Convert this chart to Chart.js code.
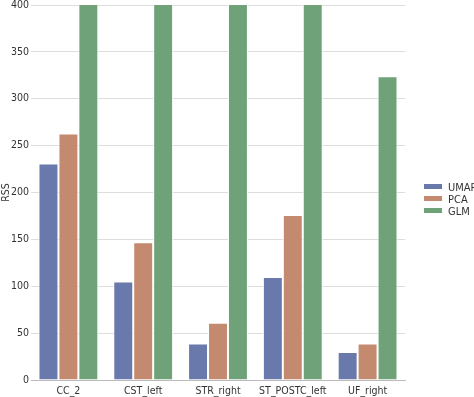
<!DOCTYPE html>
<html>
<head>
<meta charset="utf-8">
<script src="https://cdn.jsdelivr.net/npm/chart.js@4/dist/chart.umd.min.js"></script>
<style>
  html, body { margin: 0; padding: 0; background: #fff; }
  #wrap { position: relative; width: 474px; height: 397px; overflow: hidden; }
  #leyenda { position: absolute; left: 424px; top: 182px; font: 11px 'DejaVu Sans Condensed', 'DejaVu Sans', sans-serif; color: #333; white-space: nowrap; }
  #leyenda div { height: 12px; line-height: 12px; }
  #leyenda span.caja { display: inline-block; width: 18px; height: 5px; margin-right: 6px; vertical-align: 2px; }
</style>
</head>
<body>
<div id="wrap"><canvas id="rssChart"></canvas><div id="leyenda"></div></div>
<script>
// categorias y valores
const tracts = ['CC_2', 'CST_left', 'STR_right', 'ST_POSTC_left', 'UF_right'];
const umap = [231, 105, 39, 110, 30];
const pca = [263, 147, 61, 176, 39];
// GLM sobrepasa el eje (recortado en 400) salvo UF_right
const glm = [560, 520, 540, 600, 324];
const yTicks = [0, 50, 100, 150, 200, 250, 300, 350, 400];

const ctx = document.getElementById('rssChart').getContext('2d');
const fontTxt = { family: "'DejaVu Sans Condensed', 'DejaVu Sans'", size: 10.5 };

const rssChart = new Chart(ctx, {
  type: 'bar',
  data: {
    labels: tracts,
    datasets: [
      { label: 'UMAP', data: umap, backgroundColor: 'rgb(105,121,171)' },
      { label: 'PCA', data: pca, backgroundColor: 'rgb(196,138,111)' },
      { label: 'GLM', data: glm, backgroundColor: 'rgb(112,162,121)' }
    ].map(d => Object.assign(d, {
      borderColor: '#ffffff',
      borderWidth: 1,
      barPercentage: 1.0,
      categoryPercentage: 0.8
    }))
  },
  options: {
    responsive: true,
    maintainAspectRatio: false,
    animation: false,
    layout: { padding: { top: 0, right: 69, bottom: 0, left: 0 } },
    plugins: {
      tooltip: { enabled: false },
      legend: { display: false }
    },
    scales: {
      x: {
        afterFit: axis => { axis.height = 17; },
        grid: { display: false },
        border: { display: true, color: '#bbbbbb', width: 1 },
        ticks: {
          color: '#333',
          padding: -3,
          autoSkip: false,
          maxRotation: 0,
          font: fontTxt
        }
      },
      y: {
        min: 0,
        max: 400,
        afterBuildTicks: axis => { axis.ticks = yTicks.map(v => ({ value: v })); },
        afterFit: axis => { axis.width = 31; axis.paddingTop = 5; },
        grid: { color: '#dddddd', lineWidth: 1, drawTicks: false },
        border: { display: false },
        title: {
          display: true,
          text: 'RSS',
          color: '#333',
          padding: 0,
          font: fontTxt
        },
        ticks: {
          color: '#333',
          padding: 2,
          font: fontTxt
        }
      }
    }
  }
});

// Leyenda en HTML a la derecha, construida desde los datasets
const leyenda = document.getElementById('leyenda');
rssChart.options.plugins.legend.labels.generateLabels(rssChart).forEach(item => {
  const fila = document.createElement('div');
  const caja = document.createElement('span');
  caja.className = 'caja';
  caja.style.background = item.fillStyle;
  fila.appendChild(caja);
  fila.appendChild(document.createTextNode(item.text));
  leyenda.appendChild(fila);
});
</script>
</body>
</html>
